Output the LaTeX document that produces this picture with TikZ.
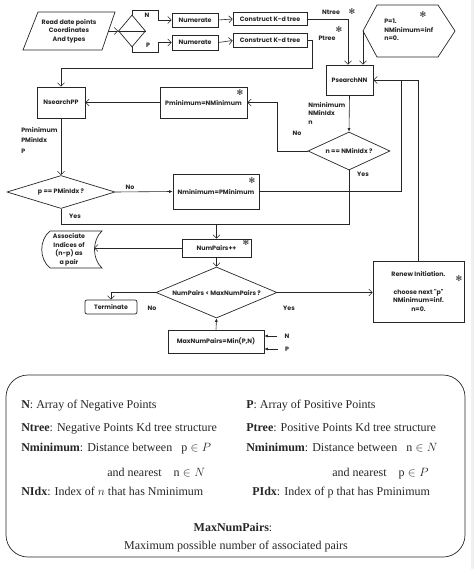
\documentclass[tikz,border=0pt]{standalone}
\usepackage{fontspec}
\usepackage{amsmath}
\setmainfont{Liberation Serif}
\newfontfamily\chartfont{Poppins}
\newfontfamily\symfont{DejaVu Sans}
\usetikzlibrary{arrows.meta,shapes.geometric}

\tikzset{
	chart/.style={font=\chartfont\bfseries\fontsize{6.3}{8.5}\selectfont},
	box/.style={chart, draw, line width=0.7pt, inner sep=0pt, align=center},
	test/.style={chart, draw, diamond, line width=0.7pt, inner sep=0pt, align=center},
	lbl/.style={chart, inner sep=0pt, align=left},
	star/.style={font=\symfont\fontsize{8}{8}\selectfont, inner sep=0pt},
	open/.style={-{Straight Barb[length=3.5pt,width=7pt]}},
	shut/.style={-{Latex[length=3.5pt,width=3pt]}},
	legend/.style={font=\fontsize{12}{14}\selectfont, anchor=base west, inner sep=0pt}
}

\begin{document}
\begin{tikzpicture}[x=1pt,y=-1pt,line width=0.6pt,color=black!85]
	\useasboundingbox (0,0) rectangle (474,569);
	\fill[black!6] (471,0) rectangle (474,569);

	% input and split
	\draw[line width=0.7pt] (23,50) -- (38,12) -- (115,12) -- (102,50) -- cycle;
	\node[chart, align=center] (read) at (69,31) {Read date points\\Coordinates\\And types};
	\coordinate (readE) at (108,31);
	\node[test, aspect=0.84, minimum width=27, minimum height=32] (split) at (132,31) {};
	\draw[open] (readE) -- (split.west);
	\draw (split.west) -- (split.east);

	\node[box, minimum width=46, minimum height=14] (numN) at (195,20) {Numerate};
	\node[box, minimum width=46, minimum height=15] (numP) at (195,42.5) {Numerate};
	\node[box, minimum width=74, minimum height=13] (conN) at (270,19) {Construct K-d tree};
	\node[box, minimum width=74, minimum height=14] (conP) at (270,40.5) {Construct K-d tree};
	\draw[open] (split.north) |- (158,10) |- (numN.west);
	\draw[open] (split.south) |- (158,52) |- (numP.west);
	\node[lbl] (lN) at (147,15) {N};
	\node[lbl] (lP) at (148,45) {P};
	\draw[open] (numN.east) -- (conN.west);
	\draw[open] (numP.east) -- (conP.west);

	% search nodes
	\node[box, minimum width=47, minimum height=30] (psnn) at (349.5,80) {PsearchNN};
	\node[box, minimum width=48, minimum height=31] (nspp) at (61,102.5) {NsearchPP};
	\draw[open] (conN.east) -| ([xshift=-1.5pt]psnn.north);
	\node[lbl] (lNtree) at (331,12) {Ntree};
	\node[star] at (352,12) {✻};
	\draw[open] (conP.east) -- ++(5,0) |- (nspp.north |- 0,68) -- (nspp.north);
	\node[lbl] (lPtree) at (327,38) {Ptree};
	\node[star] at (339,30) {✻};

	% initial values
	\draw[line width=0.7pt] (363,31) -- (377,5) -- (438,5) -- (455,31) -- (438,57) -- (377,57) -- cycle;
	\coordinate (hexW) at (363,31);
	\node[lbl, anchor=west] (init) at (384,30) {P=1.\\NMinimum=inf\\n=0.};
	\node[star] at (423,15) {✻};
	\draw[open] (hexW) -- (hexW |- psnn.north);

	% n test
	\node[test, aspect=2.16, minimum width=82, minimum height=38] (ndia) at (349,151) {n == NMinIdx ?};
	\draw[shut] (psnn.south) -- (ndia.north);
	\node[lbl, anchor=west] (nout) at (308,113) {Nminimum\\NMinIdx\\n};
	\node[box, minimum width=87, minimum height=31] (pmin) at (203.5,102.5) {Pminimum=NMinimum};
	\node[star] at (240,93) {✻};
	\draw[open] (ndia.west) -- (277,151) |- (pmin.east);
	\node[lbl] (lNo1) at (297,133) {No};
	\node[lbl] (lYes1) at (363,174) {Yes};
	\draw[open] (pmin.west) -- (nspp.east);

	% p test
	\node[test, aspect=3.27, minimum width=108, minimum height=33] (pdia) at (61,192) {p == PMinIdx ?};
	\draw[open] (nspp.south) -- (pdia.north);
	\node[lbl, anchor=west, font=\chartfont\bfseries\fontsize{6.3}{10.5}\selectfont] (pout) at (21,140) {Pminimum\\PMinIdx\\P};
	\node[box, minimum width=86, minimum height=35] (nmin) at (216,191.5) {Nminimum=PMinimum};
	\node[star] at (252,181) {✻};
	\draw[shut] (pdia.east) -- (nmin.west);
	\node[lbl] (lNo2) at (130,187) {No};
	\node[lbl] (lYes2) at (75,216) {Yes};
	\draw (nmin.east) -| (401,80);

	% pairs
	\node[box, minimum width=69, minimum height=18] (npp) at (216.5,248) {NumPairs++};
	\node[star] at (246,243) {✻};
	\coordinate (yesJoin) at (216.5,224);
	\draw (ndia.south) |- (yesJoin);
	\draw (pdia.south) |- (yesJoin);
	\draw[open] (yesJoin) -- (npp.north);

	\draw[line width=0.7pt] (50,231) -- (102,231) .. controls (92,240) and (92,259) .. (102,268)
		-- (50,268) .. controls (39,259) and (39,240) .. (50,231);
	\node[chart, align=center] (assoc) at (69,250) {Associate\\Indices of\\(n-p) as\\a pair};
	\coordinate (assocE) at (94,249);
	\draw[open] (npp.west) -- (assocE |- npp.west);

	\node[test, aspect=2.37, minimum width=121, minimum height=51] (mdia) at (216.5,292.5) {NumPairs < MaxNumPairs ?};
	\draw[open] (npp.south) -- (mdia.north);
	\node[box, rounded corners=2pt, minimum width=52, minimum height=14] (term) at (111,307) {Terminate};
	\draw[open] (mdia.west) -| (term.north);
	\node[lbl] (lNo3) at (152,308) {No};
	\node[box, minimum width=91, minimum height=61] (renew) at (418.5,291.5)
		{Renew Initiation.\\[8.5pt]choose next "p"\\NMinimum=inf.\\n=0.};
	\node[star] at (459,279) {✻};
	\draw[open] (mdia.east) -- (renew.west |- mdia.east);
	\node[lbl] (lYes3) at (289,308) {Yes};
	\draw[open] (renew.north) |- (psnn.east);

	\node[box, minimum width=96, minimum height=23] (maxb) at (216,341.5) {MaxNumPairs=Min(P,N)};
	\draw[shut] (maxb.north) -- (mdia.south);
	\node[lbl, inner xsep=7pt] (inN) at (287,336) {N};
	\node[lbl, inner xsep=7pt] (inP) at (287,349) {P};
	\draw[shut] (inN.west) -- (maxb.east |- inN.west);
	\draw[shut] (inP.west) -- (maxb.east |- inP.west);

	% legend
	\draw[line width=0.7pt, rounded corners=22pt] (6,375) rectangle (465,557);
	\node[legend] (n1) at (21,408) {\textbf{N}: Array of Negative Points};
	\node[legend] (p1) at (246,408) {\textbf{P}: Array of Positive Points};
	\node[legend] (n2) at (21,431) {\textbf{Ntree}: Negative Points Kd tree structure};
	\node[legend] (p2) at (246,431) {\textbf{Ptree}: Positive Points Kd tree structure};
	\node[legend] (n3) at (21,451) {\textbf{Nminimum}: Distance between \ \ $\mathrm{p}\in P$};
	\node[legend] (p3) at (246,451) {\textbf{Nminimum}: Distance between \ \ $\mathrm{n}\in N$};
	\node[legend] (n4) at (107,476) {and nearest \ \ \ $\mathrm{n}\in N$};
	\node[legend] (p4) at (332,476) {and nearest \ \ \ $\mathrm{p}\in P$};
	\node[legend] (n5) at (21,495) {\textbf{NIdx}: Index of $n$ that has Nminimum};
	\node[legend] (p5) at (252,495) {\textbf{PIdx}: Index of p that has Pminimum};
	\node[legend, anchor=base] (mx) at (233,531) {\textbf{MaxNumPairs}:};
	\node[legend, anchor=base] (mxd) at (236,549) {Maximum possible number of associated pairs};
\end{tikzpicture}
\end{document}
